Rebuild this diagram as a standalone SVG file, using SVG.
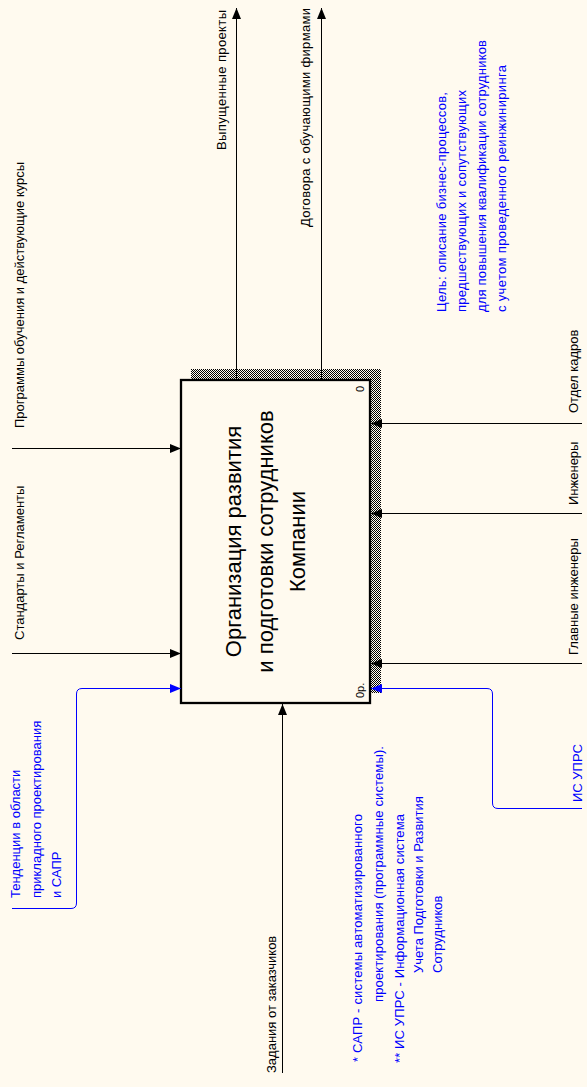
<svg xmlns="http://www.w3.org/2000/svg" width="587" height="1087" viewBox="0 0 587 1087">
<style>
.bg{fill:#FFFAEF}
.t{font-family:"Liberation Sans",Arial,sans-serif;font-size:13px;fill:#000}
.b{fill:#0000FF}
.title{font-family:"Liberation Sans",Arial,sans-serif;font-size:22px;fill:#000;text-anchor:middle}
.sm{font-family:"Liberation Sans",Arial,sans-serif;font-size:11px;fill:#000}
.ln{fill:none;stroke:#000;stroke-width:1}
.lb{fill:none;stroke:#0000FF;stroke-width:1}
</style>
<defs>
<pattern id="hatch" x="0" y="0" width="2" height="2" patternUnits="userSpaceOnUse">
<rect x="0" y="0" width="1" height="1" fill="#000"/>
<rect x="1" y="1" width="1" height="1" fill="#000"/>
</pattern>
<marker id="ah" markerUnits="userSpaceOnUse" markerWidth="12" markerHeight="10" refX="11" refY="5" orient="auto">
<path d="M0,0.5 L11,5 L0,9.5 z" fill="#000"/>
</marker>
<marker id="ahb" markerUnits="userSpaceOnUse" markerWidth="12" markerHeight="10" refX="11" refY="5" orient="auto">
<path d="M0,0.5 L11,5 L0,9.5 z" fill="#0000FF"/>
</marker>
</defs>
<rect class="bg" x="0" y="0" width="587" height="1087"/>

<g id="node-A0">
<rect x="191" y="369" width="190" height="324" fill="url(#hatch)"/>
<rect x="181" y="380" width="189" height="323" fill="#FFFAEF" stroke="#000" stroke-width="2.3"/>
<text class="title" transform="translate(241,541.5) rotate(-90)">Организация развития</text>
<text class="title" transform="translate(273,541.5) rotate(-90)">и подготовки сотрудников</text>
<text class="title" transform="translate(305,541.5) rotate(-90)">Компании</text>
<text class="sm" transform="translate(364,392) rotate(-90)">0</text>
<text class="sm" transform="translate(364,698) rotate(-90)">0р.</text>
</g>

<g id="connectors">
<path class="ln" d="M236.5,380 V8" marker-end="url(#ah)"/>
<path class="ln" d="M321.5,380 V8" marker-end="url(#ah)"/>
<path class="ln" d="M12,448.5 H181" marker-end="url(#ah)"/>
<path class="ln" d="M12,653.5 H181" marker-end="url(#ah)"/>
<path class="lb" d="M12,908.5 H71 Q76.5,908.5 76.5,903 V694 Q76.5,688.5 82,688.5 H181" marker-end="url(#ahb)"/>
<path class="ln" d="M282.5,1073 V704" marker-end="url(#ah)"/>
<path class="ln" d="M582,423.5 H371" marker-end="url(#ah)"/>
<path class="ln" d="M582,513.5 H371" marker-end="url(#ah)"/>
<path class="ln" d="M582,663.5 H371" marker-end="url(#ah)"/>
<path class="lb" d="M582,808.5 H498 Q492.5,808.5 492.5,803 V694 Q492.5,688.5 487,688.5 H371" marker-end="url(#ahb)"/>
</g>

<g id="labels">
<text class="t" transform="translate(226,150) rotate(-90)" textLength="140" lengthAdjust="spacing">Выпущенные проекты</text>
<text class="t" transform="translate(310,227) rotate(-90)" textLength="219" lengthAdjust="spacing">Договора с обучающими фирмами</text>
<text class="t" transform="translate(24,428) rotate(-90)">Программы обучения и действующие курсы</text>
<text class="t" transform="translate(24,640) rotate(-90)">Стандарты и Регламенты</text>
<text class="t b" transform="translate(20,898) rotate(-90)">Тенденции в области</text>
<text class="t b" transform="translate(41,898) rotate(-90)">прикладного проектирования</text>
<text class="t b" transform="translate(61,898) rotate(-90)">и САПР</text>
<text class="t" transform="translate(276,1073) rotate(-90)">Задания от заказчиков</text>
<text class="t" transform="translate(578,413) rotate(-90)">Отдел кадров</text>
<text class="t" transform="translate(578,505) rotate(-90)">Инженеры</text>
<text class="t" transform="translate(578,655) rotate(-90)">Главные инженеры</text>
<text class="t b" transform="translate(582,802) rotate(-90)">ИС УПРС</text>
</g>

<g id="notes">
<text class="t b" transform="translate(362,1062) rotate(-90)" textLength="248" lengthAdjust="spacing">* САПР - системы автоматизированного</text>
<text class="t b" transform="translate(383,1002) rotate(-90)" textLength="256" lengthAdjust="spacing">проектирования (программные системы).</text>
<text class="t b" transform="translate(404,1063) rotate(-90)" textLength="249" lengthAdjust="spacing">** ИС УПРС - Информационная система</text>
<text class="t b" transform="translate(423,973) rotate(-90)">Учета Подготовки и Развития</text>
<text class="t b" transform="translate(442,973) rotate(-90)">Сотрудников</text>
</g>

<g id="goal">
<text class="t b" transform="translate(446,312) rotate(-90)" textLength="220" lengthAdjust="spacing">Цель: описание бизнес-процессов,</text>
<text class="t b" transform="translate(466,312) rotate(-90)" textLength="222" lengthAdjust="spacing">предшествующих и сопутствующих</text>
<text class="t b" transform="translate(486,312) rotate(-90)" textLength="272" lengthAdjust="spacing">для повышения квалификации сотрудников</text>
<text class="t b" transform="translate(506,312) rotate(-90)" textLength="247" lengthAdjust="spacing">с учетом проведенного реинжиниринга</text>
</g>
</svg>
